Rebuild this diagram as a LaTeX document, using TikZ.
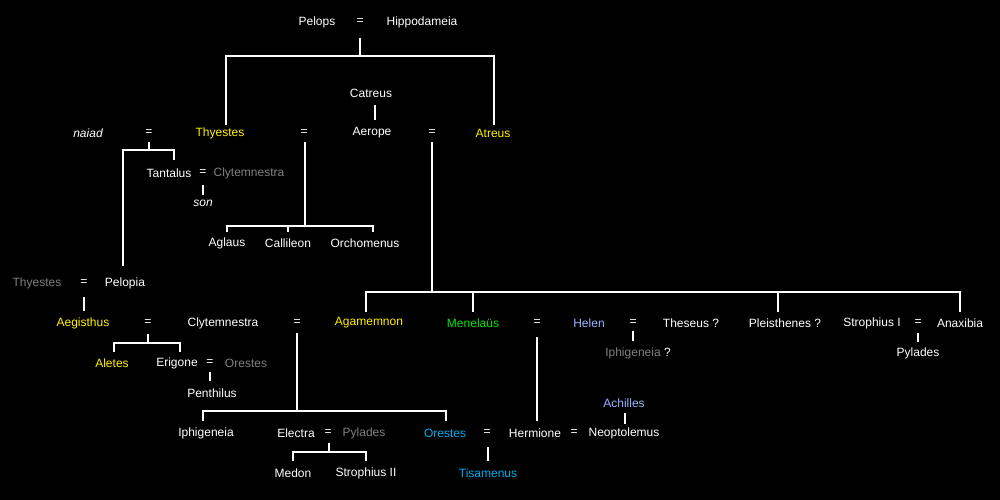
\documentclass[tikz,border=0pt]{standalone}
\usepackage{fontspec}
\setmainfont{Liberation Sans}
\begin{document}
\begin{tikzpicture}[x=1pt,y=-1pt,
  every node/.style={text=white,font=\fontsize{12}{14}\selectfont,inner sep=0pt},
  gr/.style={text=gray}, ye/.style={text=yellow}, gn/.style={text=green!90!black},
  cy/.style={text=cyan}, lb/.style={text={rgb,255:red,150;green,180;blue,255}},
  it/.style={font=\fontsize{12}{14}\selectfont\itshape},
  ln/.style={draw=white,line width=2pt}]
\fill[black] (0,0) rectangle (1000,500);
\useasboundingbox (0,0) rectangle (1000,500);
% row 1
\node (pelops) at (317,22) {Pelops};
\node (eq1) at (360,22) {=};
\node (hipp) at (422,22) {Hippodameia};
\node (catreus) at (371,93) {Catreus};
% row 2
\node[it] (naiad) at (88,133) {naiad};
\node (eq2) at (149,133) {=};
\node[ye] (thy) at (220,133) {Thyestes};
\node (eq3) at (304,133) {=};
\node (aerope) at (372,133) {Aerope};
\node (eq4) at (432,133) {=};
\node[ye] (atreus) at (493,133) {Atreus};
\node (tant) at (169,173) {Tantalus};
\node (eq5) at (203,173) {=};
\node[gr] (clyg) at (249,173) {Clytemnestra};
\node[it] (son) at (203,203) {son};
\node (aglaus) at (227,243) {Aglaus};
\node (calli) at (288,243) {Callileon};
\node (orch) at (365,243) {Orchomenus};
\node[gr] (thyg) at (37,283) {Thyestes};
\node (eq6) at (84,283) {=};
\node (pelopia) at (125,283) {Pelopia};
% row 3
\node[ye] (aeg) at (83,323) {Aegisthus};
\node (eq7) at (148,323) {=};
\node (cly) at (223,323) {Clytemnestra};
\node (eq8) at (297,323) {=};
\node[ye] (agam) at (369,323) {Agamemnon};
\node[gn] (men) at (473,323) {Menela\"us};
\node (eq9) at (537,323) {=};
\node[lb] (helen) at (589,323) {Helen};
\node (eq10) at (633,323) {=};
\node (thes) at (691,323) {Theseus ?};
\node (pleis) at (785,323) {Pleisthenes ?};
\node (stro) at (872,323) {Strophius I};
\node (eq11) at (918,323) {=};
\node (anax) at (960,323) {Anaxibia};
\node (iphq) at (638,353) {\textcolor{gray}{Iphigeneia} ?};
\node (pyl1) at (918,353) {Pylades};
\node[ye] (aletes) at (112,363) {Aletes};
\node (erig) at (177,363) {Erigone};
\node (eq12) at (210,363) {=};
\node[gr] (oreg) at (246,363) {Orestes};
\node (penth) at (212,393) {Penthilus};
\node[lb] (achil) at (624,403) {Achilles};
% row 4
\node (iph) at (206,433) {Iphigeneia};
\node (elec) at (296,433) {Electra};
\node (eq13) at (328,433) {=};
\node[gr] (pylg) at (364,433) {Pylades};
\node[cy] (orest) at (445,433) {Orestes};
\node (eq14) at (487,433) {=};
\node (herm) at (535,433) {Hermione};
\node (eq15) at (574,433) {=};
\node (neo) at (624,433) {Neoptolemus};
\node (medon) at (293,473) {Medon};
\node (stro2) at (366,473) {Strophius II};
\node[cy] (tisa) at (488,473) {Tisamenus};
% lines
\draw[ln] (eq1.south |- 0,38) -- (360,56);
\draw[ln] (226,125) -- (226,56) -- (494,56) -- (494,125);
\draw[ln] (375,105) -- (375,120);
\draw[ln] (149,142) -- (149,150);
\draw[ln] (123,266) -- (123,150) -- (174,150) -- (174,160);
\draw[ln] (203,185) -- (203,195);
\draw[ln] (305,142) -- (305,226);
\draw[ln] (227,232) -- (227,226) -- (373,226) -- (373,232);
\draw[ln] (288,226) -- (288,232);
\draw[ln] (432,142) -- (432,292);
\draw[ln] (366,312) -- (366,292) -- (960,292) -- (960,312);
\draw[ln] (473,292) -- (473,312);
\draw[ln] (778,292) -- (778,312);
\draw[ln] (84,297) -- (84,311);
\draw[ln] (148,334) -- (148,343);
\draw[ln] (114,352) -- (114,343) -- (180,343) -- (180,352);
\draw[ln] (210,372) -- (210,381);
\draw[ln] (297,333) -- (297,411);
\draw[ln] (203,421) -- (203,411) -- (446,411) -- (446,421);
\draw[ln] (633,331) -- (633,341);
\draw[ln] (918,333) -- (918,342);
\draw[ln] (537,337) -- (537,421);
\draw[ln] (625,413) -- (625,424);
\draw[ln] (329,443) -- (329,452);
\draw[ln] (293,461) -- (293,452) -- (366,452) -- (366,461);
\draw[ln] (488,447) -- (488,461);
\end{tikzpicture}
\end{document}
